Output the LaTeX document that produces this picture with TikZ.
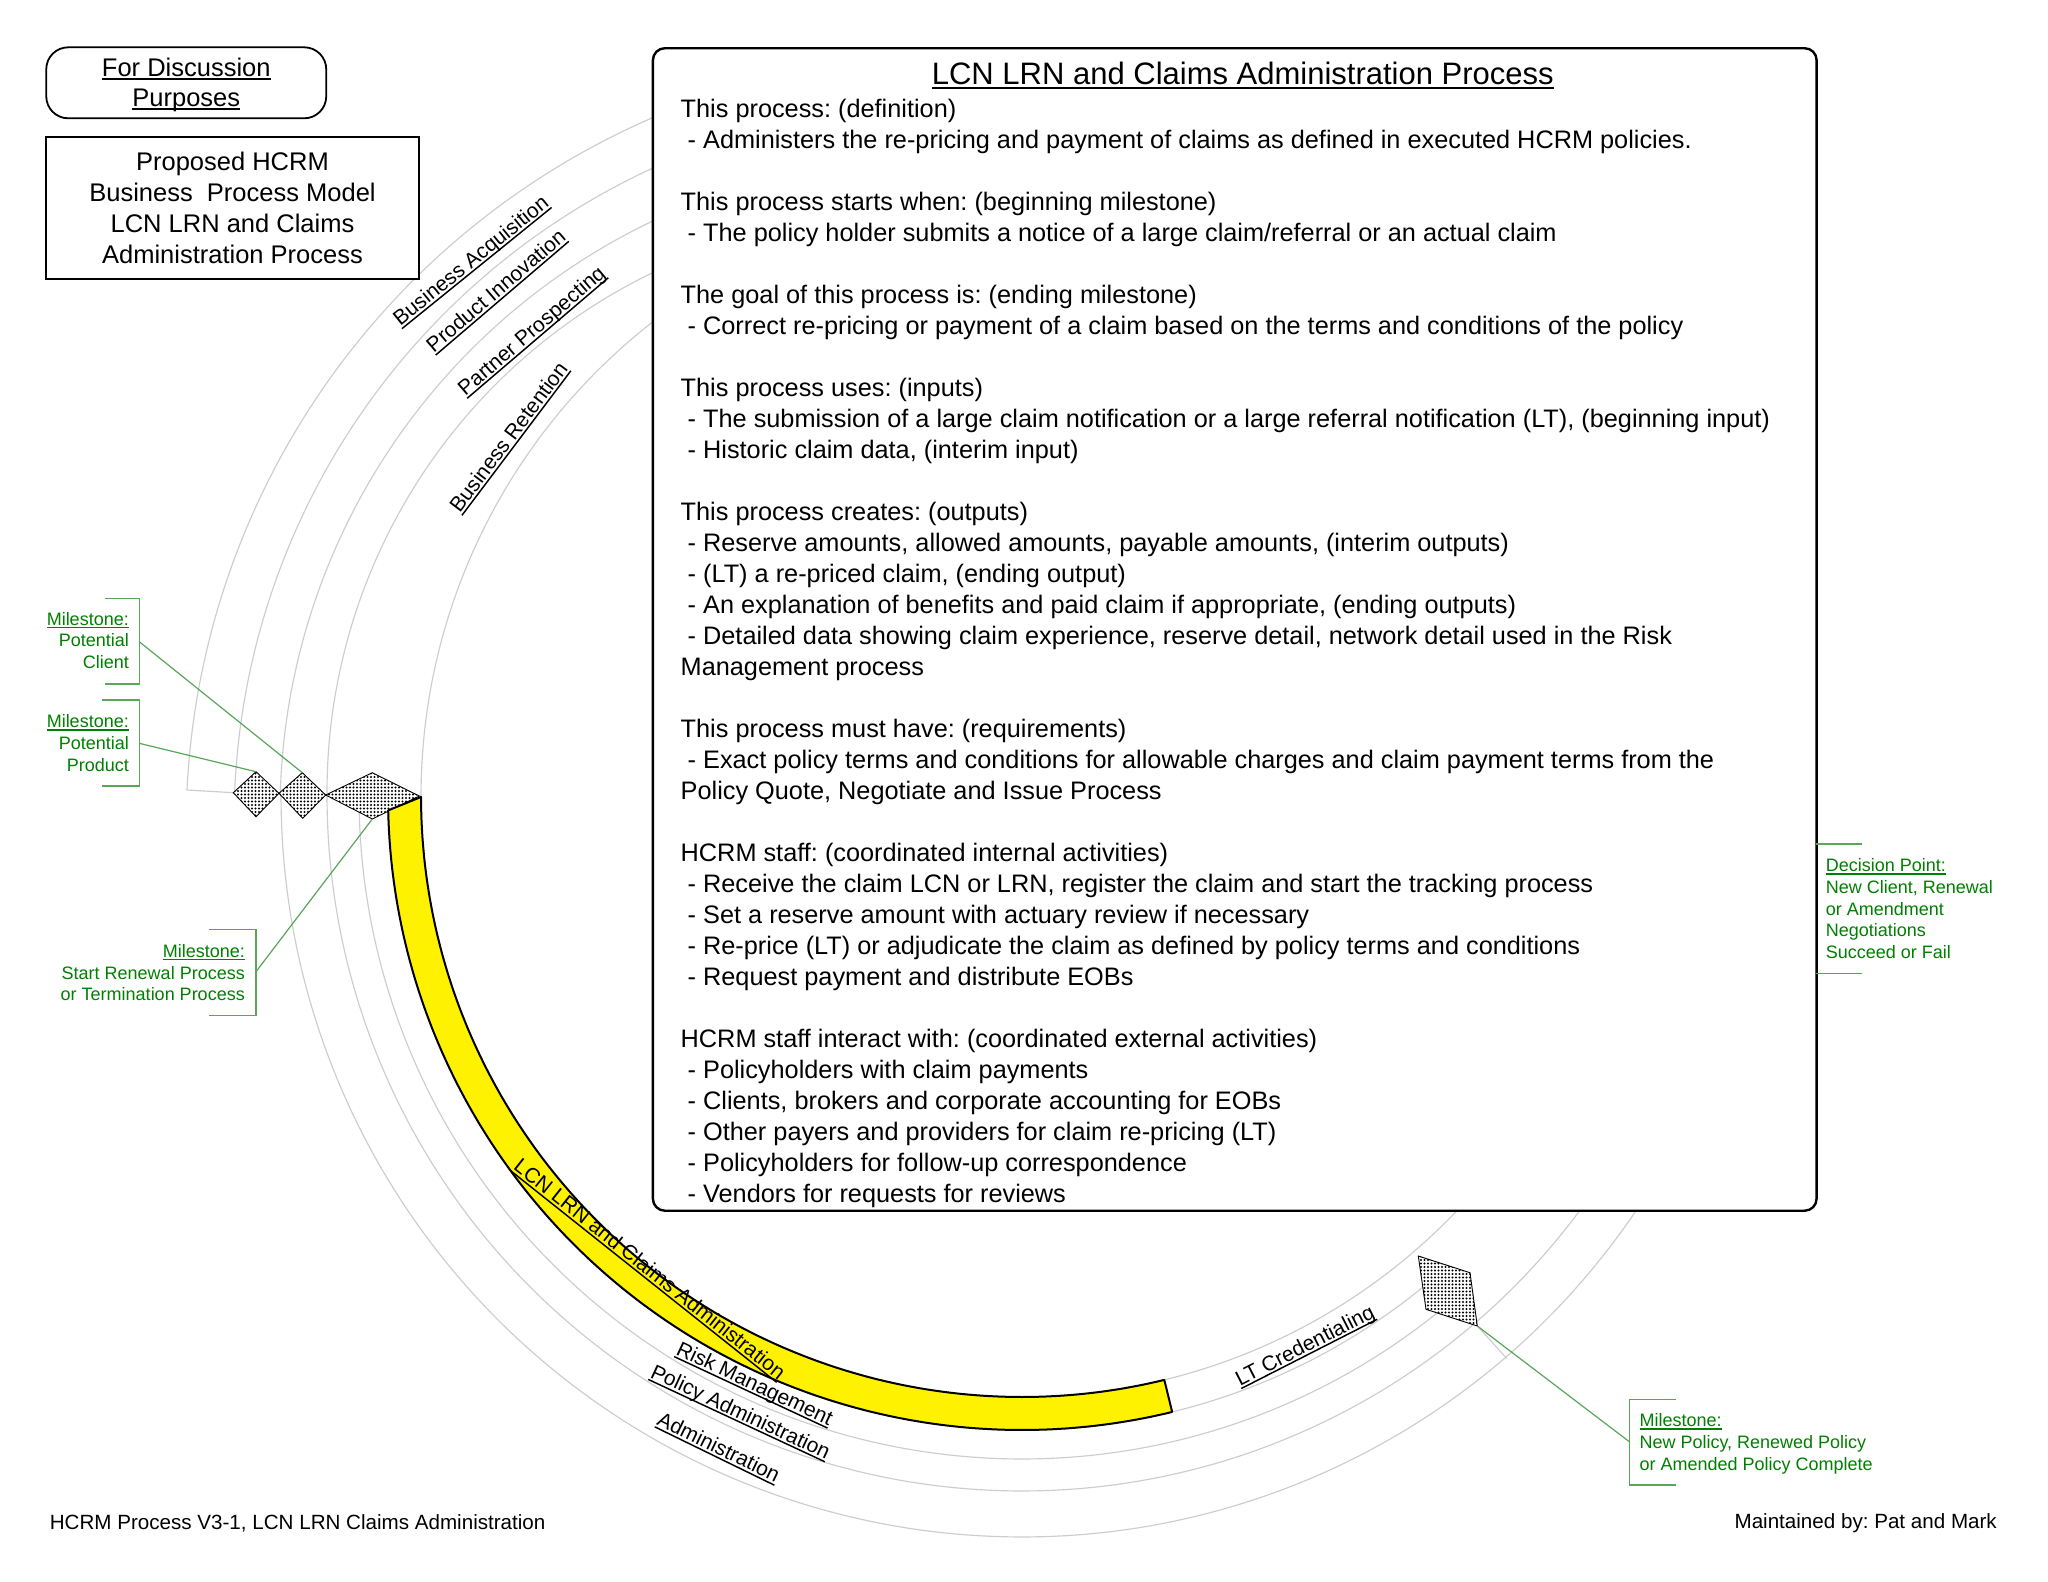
\documentclass[tikz,border=0pt]{standalone}
\usepackage{fontspec}
\setmainfont{Liberation Sans}
\usetikzlibrary{patterns.meta}
\definecolor{arcgray}{RGB}{205,205,205}
\definecolor{mgreen}{RGB}{0,128,0}
\definecolor{mline}{RGB}{90,165,90}
\newsavebox\myulbox
\newcommand\myul[1]{\sbox\myulbox{#1}\rlap{\rule[-0.16em]{\wd\myulbox}{0.07em}}\usebox\myulbox}
\newcommand\mydash{\hspace*{7pt}- }
\frenchspacing
\begin{document}
\begin{tikzpicture}[x=1pt,y=-1pt,
  arcline/.style={draw=arcgray, line width=1.15pt},
  mlink/.style={draw=mline, line width=1.2pt},
  dia/.style={draw=black, line width=0.9pt, preaction={fill=white}, pattern={Dots[distance=3.5pt, radius=1.05pt]}},
  band/.style={draw=black, line width=2pt, fill=yellow, line join=round},
  mtext/.style={text=mgreen, font={\fontsize{18}{21.7}\selectfont}, inner sep=0pt},
  lbl/.style={font={\fontsize{21}{25}\selectfont}, inner sep=0pt},
  body/.style={font={\fontsize{25.3}{31}\selectfont}, inner sep=0pt, align=left},
  ]
\fill[white] (0,0) rectangle (2048,1582);
\useasboundingbox (0,0) rectangle (2048,1582);

% ---- outer process rings (top-left group)
\draw[arcline] plot[domain=-177.19:-105,samples=100] ({960+774*cos(\x)},{828+774*sin(\x)});
\draw[arcline] plot[domain=-177.67:-105,samples=100] ({954+720*cos(\x)},{822+720*sin(\x)});
\draw[arcline] plot[domain=-178.36:-105,samples=100] ({935+655*cos(\x)},{812+655*sin(\x)});
\draw[arcline] plot[domain=-180.3:-105,samples=100] ({904+577*cos(\x)},{792+577*sin(\x)});
% ---- wheel rings
\draw[arcline] plot[domain=40:255,samples=220] ({1022+601*cos(\x)},{796+601*sin(\x)});
\draw[arcline] plot[domain=50.8:178.7,samples=160] ({1022+634*cos(\x)},{796+634*sin(\x)});
\draw[arcline] plot[domain=51.2:178.6,samples=160] ({1022+663*cos(\x)},{796+663*sin(\x)});
\draw[arcline] plot[domain=32:180.1,samples=160] ({1022+695*cos(\x)},{796+695*sin(\x)});
\draw[arcline] plot[domain=30:180.2,samples=160] ({1022+741*cos(\x)},{796+741*sin(\x)});

% ---- diamond corners
\coordinate (d1l) at (233.3,792.7); \coordinate (d1t) at (256,771.7);
\coordinate (d1r) at (279,793.3);   \coordinate (d1b) at (256,816.7);
\coordinate (d2t) at (302.3,772.7); \coordinate (d2r) at (325.7,795);
\coordinate (d2b) at (302.7,818.3);
\coordinate (d3t) at (372.3,772.7); \coordinate (d3r) at (419.3,796);
\coordinate (d3b) at (372.3,819);
\coordinate (d4a) at (1418.3,1256); \coordinate (d4b) at (1470,1272.7);
\coordinate (d4c) at (1477.3,1326); \coordinate (d4d) at (1426,1309.3);
\coordinate (a1e) at (187,790);
\coordinate (a5e) at (1506.7,1358.3);
\draw[arcline] (a1e) -- (d1l);
\draw[arcline] (d4c) -- (a5e);

% ---- main text box
\node[draw, line width=2.4pt, rounded corners=12pt, fill=white, minimum width=1163.7pt, minimum height=1162.5pt, anchor=north west, inner sep=0pt] (mainbox) at (651.7,47) {};

% ---- top-left boxes
\node[draw, line width=1.8pt, rounded corners=22pt, fill=white, minimum width=280pt, minimum height=71pt, inner sep=0pt] (fdp) at (186.25,82.8) {};
\node[font={\fontsize{25.5}{30}\selectfont}, align=center, inner sep=0pt, anchor=north] (fdptext) at (186.3,55.9) {\rule{0pt}{20pt}\myul{For Discussion}\\\myul{Purposes}};
\node[draw, line width=1.8pt, fill=white, minimum width=372.5pt, minimum height=142pt, inner sep=0pt] (propbox) at (232.5,208.3) {};
\node[font={\fontsize{25.5}{31}\selectfont}, align=center, inner sep=0pt, anchor=north] (proptext) at (232.5,149.9) {\rule{0pt}{20pt}Proposed HCRM\\Business\ \ Process Model\\LCN LRN and Claims\\Administration Process};

% ---- diamonds
\draw[dia] (d1l) -- (d1t) -- (d1r) -- (d1b) -- cycle;
\draw[dia] (d1r) -- (d2t) -- (d2r) -- (d2b) -- cycle;
\draw[dia] (d2r) -- (d3t) -- (d3r) -- (d3b) -- cycle;
\draw[dia] (d4a) -- (d4b) -- (d4c) -- (d4d) -- cycle;

% ---- yellow band (current process)
\coordinate (ya) at (388.2,810.4);
\coordinate (yb) at (421,797);
\draw[band] (ya) -- (yb) -- plot[domain=179.9:76.3,samples=160] ({1022+601*cos(\x)},{796+601*sin(\x)}) -- plot[domain=76.3:178.7,samples=160] ({1022+634*cos(\x)},{796+634*sin(\x)}) -- cycle;

% ---- title and body
\node[font={\fontsize{31}{36}\selectfont}, anchor=base, inner sep=0pt] (title) at (1242.8,84.5) {\myul{LCN LRN and Claims Administration Process}};
\node[body, anchor=north west] (bodytext) at (680.5,97.4) {\rule{0pt}{20pt}This process: (definition)\\
\mydash Administers the re-pricing and payment of claims as defined in executed HCRM policies.\\[31pt]
This process starts when: (beginning milestone)\\
\mydash The policy holder submits a notice of a large claim/referral or an actual claim\\[31pt]
The goal of this process is: (ending milestone)\\
\mydash Correct re-pricing or payment of a claim based on the terms and conditions of the policy\\[31pt]
This process uses: (inputs)\\
\mydash The submission of a large claim notification or a large referral notification (LT), (beginning input)\\
\mydash Historic claim data, (interim input)\\[31pt]
This process creates: (outputs)\\
\mydash Reserve amounts, allowed amounts, payable amounts, (interim outputs)\\
\mydash (LT) a re-priced claim, (ending output)\\
\mydash An explanation of benefits and paid claim if appropriate, (ending outputs)\\
\mydash Detailed data showing claim experience, reserve detail, network detail used in the Risk\\
Management process\\[31pt]
This process must have: (requirements)\\
\mydash Exact policy terms and conditions for allowable charges and claim payment terms from the\\
Policy Quote, Negotiate and Issue Process\\[31pt]
HCRM staff: (coordinated internal activities)\\
\mydash Receive the claim LCN or LRN, register the claim and start the tracking process\\
\mydash Set a reserve amount with actuary review if necessary\\
\mydash Re-price (LT) or adjudicate the claim as defined by policy terms and conditions\\
\mydash Request payment and distribute EOBs\\[31pt]
HCRM staff interact with: (coordinated external activities)\\
\mydash Policyholders with claim payments\\
\mydash Clients, brokers and corporate accounting for EOBs\\
\mydash Other payers and providers for claim re-pricing (LT)\\
\mydash Policyholders for follow-up correspondence\\
\mydash Vendors for requests for reviews};

% ---- ring labels
\node[lbl, rotate=39] (lba) at (471.7,261.8) {\myul{Business Acquisition}};
\node[lbl, rotate=40.5] (lpi) at (496.7,291.7) {\myul{Product Innovation}};
\node[lbl, rotate=40.5] (lpp) at (532.5,331.9) {\myul{Partner Prospecting}};
\node[lbl, rotate=53] (lbr) at (509.5,438) {\myul{Business Retention}};
\node[lbl, rotate=-38.5] (llcn) at (649.2,1270) {\myul{LCN LRN and Claims Administration}};
\node[lbl, rotate=-25] (lrm) at (754.2,1385) {\myul{Risk Management}};
\node[lbl, rotate=-25] (lpa) at (740,1413.3) {\myul{Policy Administration}};
\node[lbl, rotate=-26] (lad) at (718.3,1448.3) {\myul{Administration}};
\node[lbl, rotate=27] (llt) at (1305.6,1346.7) {\myul{LT Credentialing}};

% ---- milestones
\node[mtext, align=right, anchor=north east] (mpc) at (129,609.8) {\rule{0pt}{15pt}\myul{Milestone:}\\Potential\\Client};
\coordinate (bpc) at (139.3,641.7);
\draw[mlink] (105,598.3) -- (139.3,598.3) -- (139.3,684) -- (105,684);
\draw[mlink] (bpc) -- (d2t);

\node[mtext, align=right, anchor=north east] (mpp) at (129,712.5) {\rule{0pt}{15pt}\myul{Milestone:}\\Potential\\Product};
\coordinate (bpp) at (139.3,743.3);
\draw[mlink] (101.7,700) -- (139.3,700) -- (139.3,786) -- (101.7,786);
\draw[mlink] (bpp) -- (d1t);

\node[mtext, align=right, anchor=north east] (msr) at (245,942.2) {\rule{0pt}{15pt}\myul{Milestone:}\\Start Renewal Process\\or Termination Process};
\coordinate (bsr) at (256,971.7);
\draw[mlink] (209.3,929.3) -- (256,929.3) -- (256,1015.7) -- (209.3,1015.7);
\draw[mlink] (bsr) -- (d3b);

\node[mtext, align=left, anchor=north west] (mnp) at (1639.3,1411.5) {\rule{0pt}{15pt}\myul{Milestone:}\\New Policy, Renewed Policy\\or Amended Policy Complete};
\coordinate (bnp) at (1629.3,1441.7);
\draw[mlink] (1675.7,1399.3) -- (1629.3,1399.3) -- (1629.3,1485) -- (1675.7,1485);
\draw[mlink] (bnp) -- (d4c);

\node[mtext, align=left, anchor=north west] (mdp) at (1825.7,856.5) {\rule{0pt}{15pt}\myul{Decision Point:}\\New Client, Renewal\\or Amendment\\Negotiations\\Succeed or Fail};
\draw[mlink] (1816.2,844) -- (1861.7,844);
\draw[mlink] (1816.2,973.3) -- (1861.7,973.3);

% ---- footer
\node[font={\fontsize{20.6}{24}\selectfont}, anchor=west, inner sep=0pt] (footl) at (49.6,1523) {HCRM Process V3-1, LCN LRN Claims Administration};
\node[font={\fontsize{20.6}{24}\selectfont}, anchor=east, inner sep=0pt] (footr) at (1997,1523) {Maintained by: Pat and Mark};
\end{tikzpicture}
\end{document}
